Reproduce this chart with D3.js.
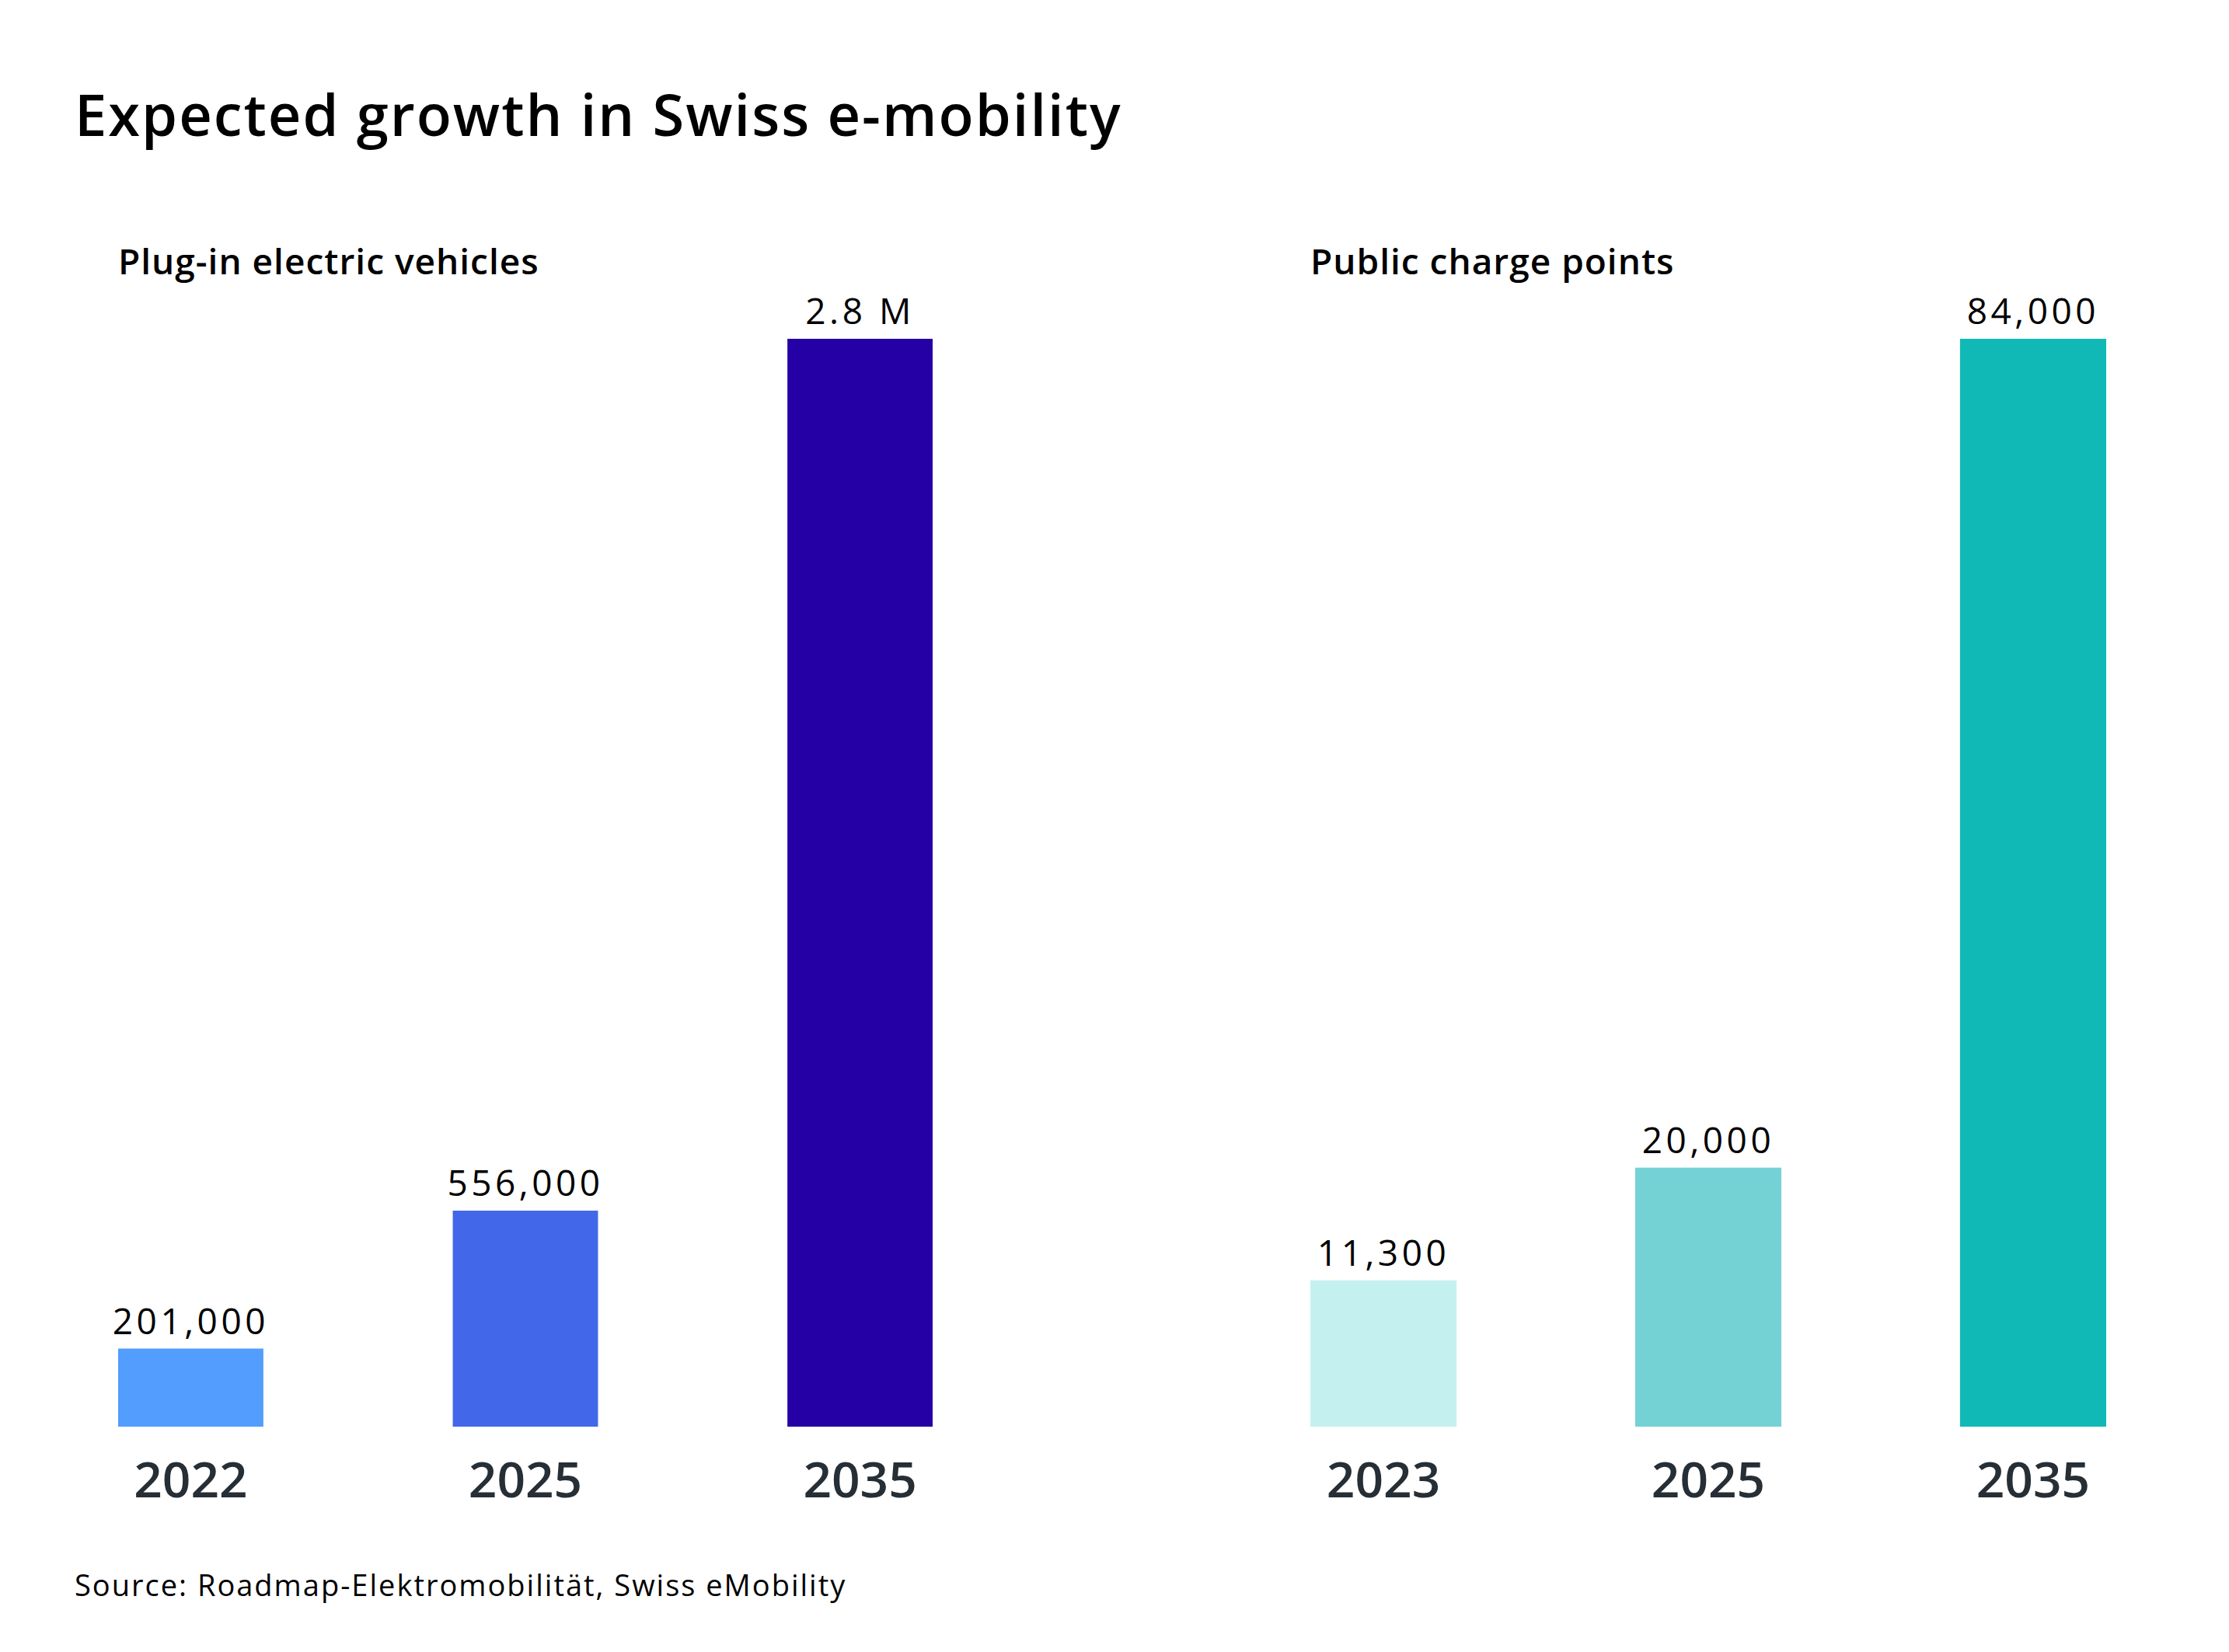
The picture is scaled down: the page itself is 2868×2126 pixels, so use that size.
<!DOCTYPE html>
<html>
<head>
<meta charset="utf-8">
<script src="https://cdn.jsdelivr.net/npm/d3@7"></script>
<style>
  body { margin: 0; background: #fff; }
  svg { display: block; font-family: "Open Sans", Lato, sans-serif; }
</style>
</head>
<body>
<svg id="chart"></svg>
<script>
// chart values
const evYears = ['2022', '2025', '2035'];
const evValues = [201000, 556000, 2800000];
const evLabels = ['201,000', '556,000', '2.8 M'];
const evColors = ['#529dfd', '#4268e9', '#2400a5'];

const cpYears = ['2023', '2025', '2035'];
const cpValues = [11300, 20000, 84000];
const cpLabels = ['11,300', '20,000', '84,000'];
const cpColors = ['#c5f0f0', '#74d2d5', '#10b9b6'];

const width = 2868;
const height = 2126;
const baseY = 1836;
const topY = 436;
const font = '"Open Sans", Lato, sans-serif';

const svg = d3.select('#chart')
  .attr('width', width)
  .attr('height', height);

svg.append('text')
  .attr('x', 96)
  .attr('y', 175)
  .attr('font-size', 74)
  .attr('font-weight', 600)
  .attr('letter-spacing', 2)
  .attr('fill', '#000')
  .text('Expected growth in Swiss e-mobility');

svg.append('text')
  .attr('x', 96)
  .attr('y', 2054)
  .attr('font-size', 38)
  .attr('letter-spacing', 2)
  .attr('fill', '#000')
  .text('Source: Roadmap-Elektromobilität, Swiss eMobility');

// one small bar panel
function panel(title, years, values, labels, colors, x0, x1, pad) {
  const g = svg.append('g');

  const x = d3.scaleBand()
    .domain(years)
    .range([x0, x1])
    .paddingInner(pad)
    .paddingOuter(0);

  const y = d3.scaleLinear()
    .domain([0, d3.max(values)])
    .range([baseY, topY]);

  const data = years.map((d, i) => ({ year: d, value: values[i], label: labels[i], color: colors[i] }));

  g.append('text')
    .attr('x', x0)
    .attr('y', 353)
    .attr('font-size', 46)
    .attr('font-weight', 600)
    .attr('letter-spacing', 1)
    .attr('fill', '#000')
    .text(title);

  g.selectAll('.bar')
    .data(data)
    .enter()
    .append('rect')
    .attr('class', 'bar')
    .attr('x', d => x(d.year))
    .attr('y', d => y(d.value))
    .attr('width', x.bandwidth())
    .attr('height', d => baseY - y(d.value))
    .attr('fill', d => d.color);

  g.selectAll('.val')
    .data(data)
    .enter()
    .append('text')
    .attr('class', 'val')
    .attr('x', d => x(d.year) + x.bandwidth() / 2)
    .attr('y', d => y(d.value) - 19)
    .attr('text-anchor', 'middle')
    .attr('font-size', 46)
    .attr('letter-spacing', 4.5)
    .attr('fill', '#000')
    .text(d => d.label);

  // year axis, no line or ticks
  const axis = g.append('g')
    .attr('transform', `translate(0,${baseY})`)
    .call(d3.axisBottom(x).tickSize(0).tickPadding(0));
  axis.select('.domain').remove();
  axis.selectAll('text')
    .attr('dy', null)
    .attr('y', 91)
    .attr('font-size', 64)
    .attr('font-weight', 600)
    .attr('font-family', font)
    .attr('fill', '#262e36');
}

panel('Plug-in electric vehicles', evYears, evValues, evLabels, evColors, 152, 1200, 0.566);
panel('Public charge points', cpYears, cpValues, cpLabels, cpColors, 1686, 2710, 0.55);
</script>
</body>
</html>
